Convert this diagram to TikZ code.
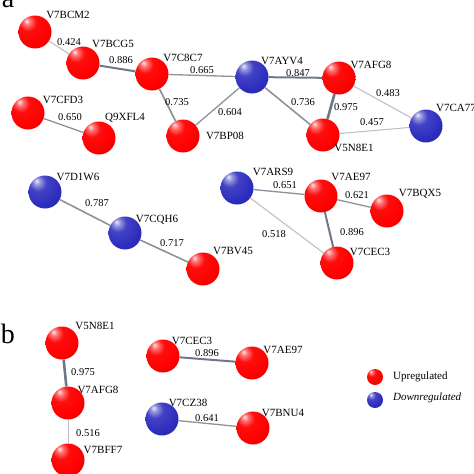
\documentclass[tikz,border=0pt]{standalone}
\usepackage{fontspec}
\setmainfont{Liberation Serif}
\definecolor{edgedark}{RGB}{112,120,135}
\definecolor{edgemid}{RGB}{140,146,158}
\definecolor{edgelight}{RGB}{185,189,196}
\pgfdeclareradialshading{redball}{\pgfpoint{-13bp}{17bp}}{color(0bp)=(red!10!white); color(5bp)=(red!55!white); color(13bp)=(red!95!white); color(30bp)=(red); color(50bp)=(red!80!black); color(68bp)=(red!50!black); color(80bp)=(red!50!black)}
\definecolor{dblue}{RGB}{45,45,190}
\pgfdeclareradialshading{blueball}{\pgfpoint{-13bp}{17bp}}{color(0bp)=(dblue!10!white); color(5bp)=(dblue!50!white); color(13bp)=(dblue!90!white); color(30bp)=(dblue); color(50bp)=(dblue!80!black); color(68bp)=(dblue!50!black); color(80bp)=(dblue!50!black)}
\tikzset{
  up/.style={circle, minimum size=33pt, inner sep=0pt, shading=redball},
  down/.style={circle, minimum size=33pt, inner sep=0pt, shading=blueball},
  upsmall/.style={circle, minimum size=16pt, inner sep=0pt, shading=redball},
  downsmall/.style={circle, minimum size=16pt, inner sep=0pt, shading=blueball},
  nlab/.style={inner sep=0pt, font=\fontsize{11pt}{13pt}\selectfont},
  elab/.style={inner sep=0pt, font=\fontsize{10.5pt}{12pt}\selectfont},
  e1/.style={draw=edgedark, line width=2.6pt},
  e2/.style={draw=edgedark, line width=2pt},
  e3/.style={draw=edgemid, line width=1.6pt},
  e4/.style={draw=edgemid, line width=1.3pt},
  e5/.style={draw=edgelight, line width=1pt},
  panel/.style={inner sep=0pt, anchor=base, font=\fontsize{28pt}{30pt}\selectfont}
}
\begin{document}
\begin{tikzpicture}[x=1pt,y=-1pt]
\useasboundingbox[fill=white] (0,0) rectangle (474,474);
% panel letters
\node[panel] (pa) at (8,7) {a};
\node[panel] (pb) at (8,343) {b};
% ---- panel a nodes
\node[up] (bcm2) at (35,32) {};
\node[up] (bcg5) at (83,63) {};
\node[up] (c8c7) at (152,74) {};
\node[up] (cfd3) at (28,113) {};
\node[up] (q9x) at (99,138) {};
\node[up] (bp08) at (183,136) {};
\node[down] (ayv4) at (252,77) {};
\node[up] (afg8) at (339,78) {};
\node[up] (n8e1) at (323,135) {};
\node[down] (ca77) at (426,126) {};
\node[down] (d1w6) at (45,192) {};
\node[down] (cqh6) at (125,233) {};
\node[up] (bv45) at (203,269) {};
\node[down] (ars9) at (237,188) {};
\node[up] (ae97) at (321,196) {};
\node[up] (bqx5) at (387,211) {};
\node[up] (cec3) at (337,263) {};
% ---- panel a edges
\draw[e5] (bcm2) -- (bcg5);
\draw[e2] (bcg5) -- (c8c7);
\draw[e4] (c8c7) -- (ayv4);
\draw[e3] (c8c7) -- (bp08);
\draw[e4] (bp08) -- (ayv4);
\draw[e4] (cfd3) -- (q9x);
\draw[e2] (ayv4) -- (afg8);
\draw[e3] (ayv4) -- (n8e1);
\draw[e1] (afg8) -- (n8e1);
\draw[e5] (afg8) -- (ca77);
\draw[e5] (n8e1) -- (ca77);
\draw[e3] (d1w6) -- (cqh6);
\draw[e3] (cqh6) -- (bv45);
\draw[e4] (ars9) -- (ae97);
\draw[e4] (ae97) -- (bqx5);
\draw[e5] (ars9) -- (cec3);
\draw[e2] (ae97) -- (cec3);
% ---- panel a labels
\node[nlab] (lbcm2) at (68,15) {V7BCM2};
\node[nlab] (lbcg5) at (113,44) {V7BCG5};
\node[nlab] (lc8c7) at (183,58) {V7C8C7};
\node[nlab] (lcfd3) at (63,100) {V7CFD3};
\node[nlab] (lq9x) at (125,118) {Q9XFL4};
\node[nlab] (lbp08) at (225,136) {V7BP08};
\node[nlab] (layv4) at (282,61) {V7AYV4};
\node[nlab] (lafg8) at (371,65) {V7AFG8};
\node[nlab] (ln8e1) at (354,148) {V5N8E1};
\node[nlab] (lca77) at (456,108) {V7CA77};
\node[nlab] (ld1w6) at (78,177) {V7D1W6};
\node[nlab] (lcqh6) at (157,220) {V7CQH6};
\node[nlab] (lbv45) at (233,251) {V7BV45};
\node[nlab] (lars9) at (273,172) {V7ARS9};
\node[nlab] (lae97) at (351,177) {V7AE97};
\node[nlab] (lbqx5) at (420,194) {V7BQX5};
\node[nlab] (lcec3) at (370,252) {V7CEC3};
\node[elab] (w1) at (69,42) {0.424};
\node[elab] (w2) at (121,60) {0.886};
\node[elab] (w3) at (202,70) {0.665};
\node[elab] (w4) at (177,102) {0.735};
\node[elab] (w5) at (230,112) {0.604};
\node[elab] (w6) at (70,117) {0.650};
\node[elab] (w7) at (298,73) {0.847};
\node[elab] (w8) at (303,102) {0.736};
\node[elab] (w9) at (346,107) {0.975};
\node[elab] (w10) at (388,93) {0.483};
\node[elab] (w11) at (372,122) {0.457};
\node[elab] (w12) at (97,203) {0.787};
\node[elab] (w13) at (172,243) {0.717};
\node[elab] (w14) at (285,185) {0.651};
\node[elab] (w15) at (357,195) {0.621};
\node[elab] (w16) at (274,234) {0.518};
\node[elab] (w17) at (352,232) {0.896};
% ---- panel b nodes
\node[up] (bn8e1) at (62,343) {};
\node[up] (bafg8) at (68,403) {};
\node[up] (bbff7) at (68,460) {};
\node[up] (bcec3) at (163,356) {};
\node[up] (bae97) at (252,363) {};
\node[down] (bcz38) at (162,419) {};
\node[up] (bbnu4) at (253,428) {};
\draw[e1] (bn8e1) -- (bafg8);
\draw[e5] (bafg8) -- (bbff7);
\draw[e2] (bcec3) -- (bae97);
\draw[e4] (bcz38) -- (bbnu4);
\node[nlab] (lbn8e1) at (95,326) {V5N8E1};
\node[nlab] (lbafg8) at (98,390) {V7AFG8};
\node[nlab] (lbbff7) at (103,450) {V7BFF7};
\node[nlab] (lbcec3) at (192,341) {V7CEC3};
\node[nlab] (lbae97) at (283,350) {V7AE97};
\node[nlab] (lbcz38) at (188,403) {V7CZ38};
\node[nlab] (lbbnu4) at (283,413) {V7BNU4};
\node[elab] (v1) at (83,372) {0.975};
\node[elab] (v2) at (88,433) {0.516};
\node[elab] (v3) at (207,353) {0.896};
\node[elab] (v4) at (207,418) {0.641};
% ---- legend
\node[upsmall] (legup) at (375,377) {};
\node[downsmall] (legdown) at (375,400) {};
\node[nlab, anchor=west] (legupt) at (393,377) {Upregulated};
\node[nlab, anchor=west] (legdownt) at (393,398) {\itshape Downregulated};
\end{tikzpicture}
\end{document}
